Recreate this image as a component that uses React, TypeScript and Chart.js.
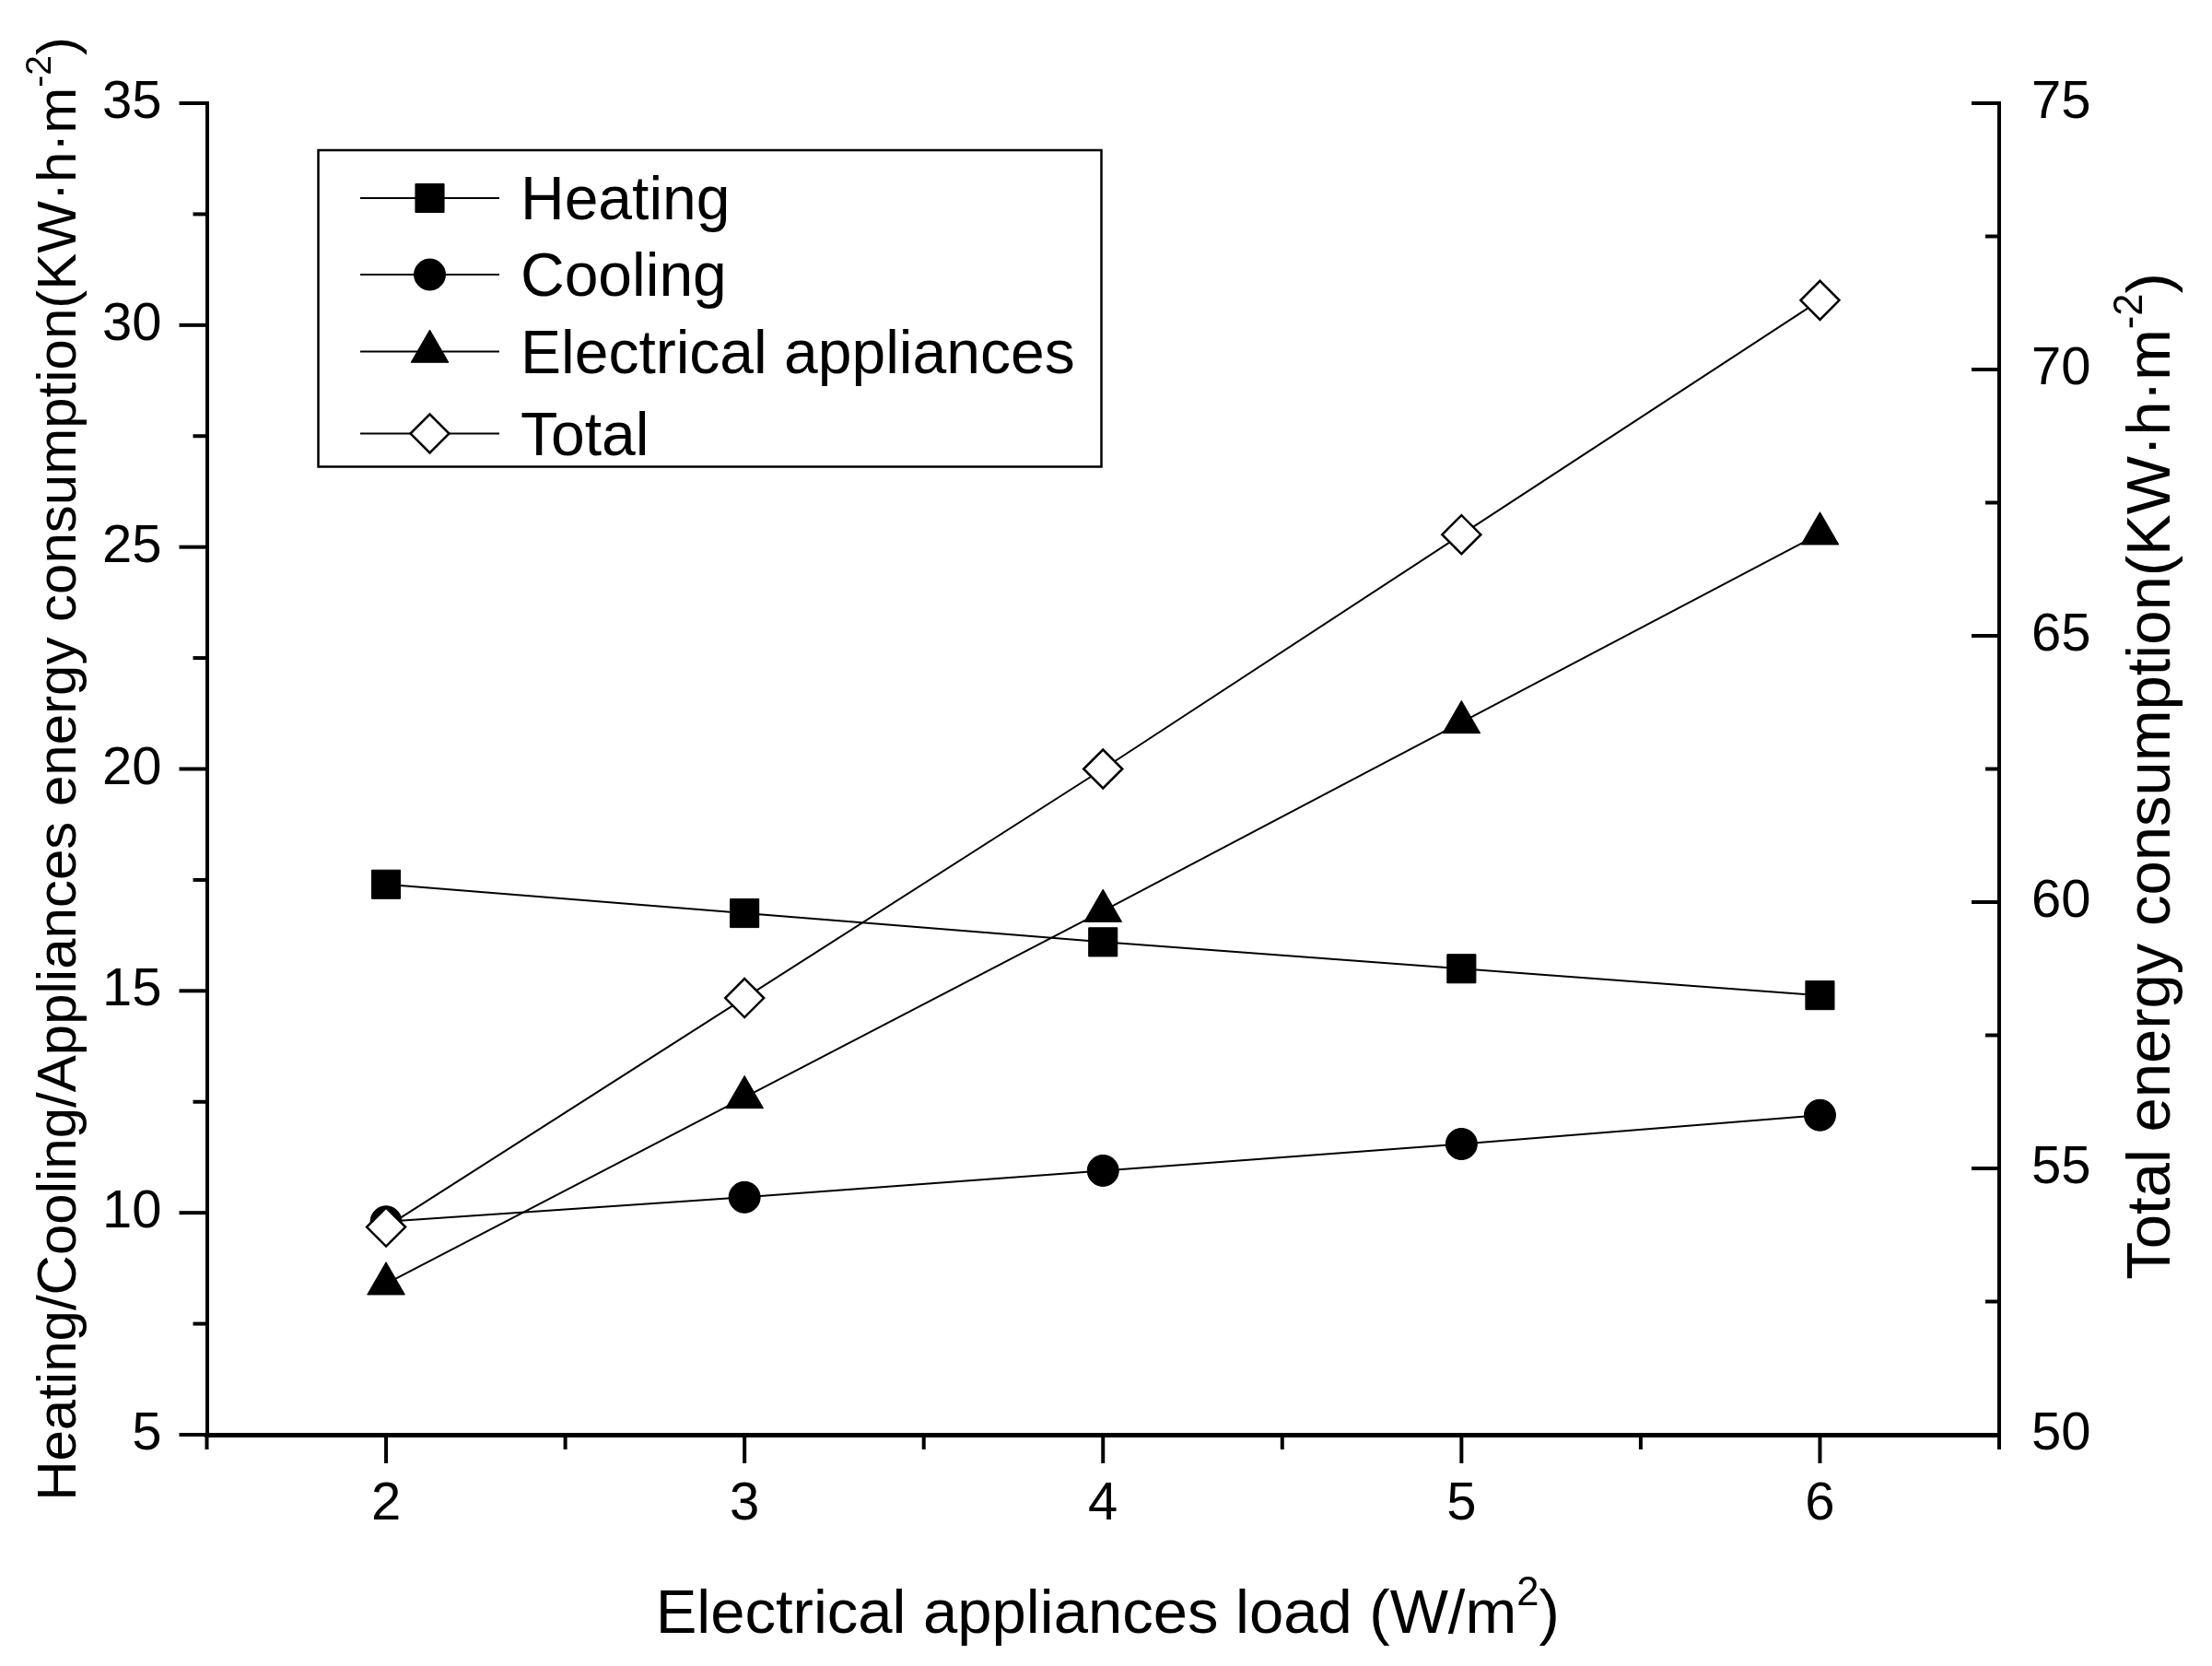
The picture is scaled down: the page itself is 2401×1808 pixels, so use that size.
import React, { useEffect, useRef } from 'react';
import { Chart, registerables } from 'chart.js';
import { drawPoint } from 'chart.js/helpers';

Chart.register(...registerables);

// ---- data ----
const loads = [2, 3, 4, 5, 6];
const heating = [17.4, 16.75, 16.1, 15.5, 14.9];
const cooling = [9.8, 10.35, 10.95, 11.55, 12.2];
const appliances = [8.4, 12.6, 16.8, 21.05, 25.3];
const total = [53.9, 58.2, 62.5, 66.9, 71.3];

const seriesLabels = ['Heating', 'Cooling', 'Electrical appliances', 'Total'];
const xTickValues = [2, 3, 4, 5, 6];
const leftTickValues = [5, 10, 15, 20, 25, 30, 35];
const rightTickValues = [50, 55, 60, 65, 70, 75];

const FONT = '"Liberation Sans", Arial, Helvetica, sans-serif';

type Seg = { t: string; sup?: boolean };
const xTitle: Seg[] = [{ t: 'Electrical appliances load (W/m' }, { t: '2', sup: true }, { t: ')' }];
const leftTitle: Seg[] = [
  { t: 'Heating/Cooling/Appliances energy consumption(KW\u00B7h\u00B7m' },
  { t: '-2', sup: true },
  { t: ')' },
];
const rightTitle: Seg[] = [{ t: 'Total energy consumption(KW\u00B7h\u00B7m' }, { t: '-2', sup: true }, { t: ')' }];

const markerStyles = [
  { pointStyle: 'rect', radius: 22, fill: '#000', borderWidth: 1 },
  { pointStyle: 'circle', radius: 17, fill: '#000', borderWidth: 1 },
  { pointStyle: 'triangle', radius: 23.5, fill: '#000', borderWidth: 1 },
  { pointStyle: 'rectRot', radius: 21, fill: '#fff', borderWidth: 2.5 },
];

function drawRich(ctx: CanvasRenderingContext2D, segs: Seg[], size: number, x: number, y: number, rot: number) {
  ctx.save();
  ctx.translate(x, y);
  ctx.rotate(rot);
  const supSize = size * 0.65;
  const widths = segs.map((s) => {
    ctx.font = `${s.sup ? supSize : size}px ${FONT}`;
    return ctx.measureText(s.t).width;
  });
  const tw = widths.reduce((a, b) => a + b, 0);
  let cx = -tw / 2;
  ctx.textAlign = 'left';
  ctx.textBaseline = 'alphabetic';
  ctx.fillStyle = '#000';
  segs.forEach((s, i) => {
    ctx.font = `${s.sup ? supSize : size}px ${FONT}`;
    ctx.fillText(s.t, cx, s.sup ? -size * 0.45 : 0);
    cx += widths[i];
  });
  ctx.restore();
}

const decorPlugin = {
  id: 'decor',
  afterDraw(chart: any) {
    const ctx: CanvasRenderingContext2D = chart.ctx;
    const xs = chart.scales.x;
    const yl = chart.scales.y;
    const yr = chart.scales.y1;
    const area = chart.chartArea;
    ctx.save();
    ctx.strokeStyle = '#000';
    ctx.lineCap = 'butt';
    ctx.lineWidth = 4;
    // x ticks (outward)
    for (let v = xs.min; v <= xs.max + 1e-9; v += 0.5) {
      const px = xs.getPixelForValue(v);
      const major = Math.abs(v - Math.round(v)) < 1e-9;
      const len = major ? 31 : 16;
      ctx.beginPath();
      ctx.moveTo(px, area.bottom);
      ctx.lineTo(px, area.bottom + len);
      ctx.stroke();
    }
    // left y ticks (outward)
    for (let v = yl.min; v <= yl.max + 1e-9; v += 2.5) {
      const py = yl.getPixelForValue(v);
      const major = Math.abs(v / 5 - Math.round(v / 5)) < 1e-9;
      const len = major ? 30 : 15;
      ctx.beginPath();
      ctx.moveTo(area.left, py);
      ctx.lineTo(area.left - len, py);
      ctx.stroke();
    }
    // right y ticks (inward)
    for (let v = yr.min; v <= yr.max + 1e-9; v += 2.5) {
      const py = yr.getPixelForValue(v);
      const major = Math.abs(v / 5 - Math.round(v / 5)) < 1e-9;
      const len = major ? 30 : 15;
      ctx.beginPath();
      ctx.moveTo(area.right, py);
      ctx.lineTo(area.right - len, py);
      ctx.stroke();
    }

    // axis titles
    drawRich(ctx, xTitle, 67, (area.left + area.right) / 2 + 5, 1772, 0);
    drawRich(ctx, leftTitle, 60, 82, (area.top + area.bottom) / 2, -Math.PI / 2);
    drawRich(ctx, rightTitle, 67, 2355, (area.top + area.bottom) / 2 + 8, -Math.PI / 2);

    // legend
    const bx = 345.5, by = 163, bw = 850, bh = 343.5;
    ctx.lineWidth = 2.5;
    ctx.strokeRect(bx, by, bw, bh);
    const rows = [215, 298, 381.5, 470.5];
    chart.data.datasets.forEach((ds: any, i: number) => {
      const ry = rows[i];
      ctx.lineWidth = 2;
      ctx.strokeStyle = '#000';
      ctx.beginPath();
      ctx.moveTo(391, ry);
      ctx.lineTo(542, ry);
      ctx.stroke();
      const m = markerStyles[i];
      ctx.fillStyle = m.fill;
      ctx.strokeStyle = '#000';
      ctx.lineWidth = m.borderWidth;
      drawPoint(ctx, { pointStyle: m.pointStyle, radius: m.radius, rotation: 0, borderWidth: m.borderWidth } as any, 466.5, ry);
      ctx.fillStyle = '#000';
      ctx.font = `66px ${FONT}`;
      ctx.textAlign = 'left';
      ctx.textBaseline = 'alphabetic';
      ctx.fillText(ds.label, 565, ry + 23);
    });
    ctx.restore();
  },
};

function mk(values: number[]) {
  return loads.map((x, i) => ({ x, y: values[i] }));
}

export default function App() {
  const ref = useRef<HTMLCanvasElement | null>(null);
  useEffect(() => {
    if (!ref.current) return;
    const seriesValues = [heating, cooling, appliances, total];
    const datasets = seriesValues.map((vals, i) => {
      const m = markerStyles[i];
      return {
        label: seriesLabels[i],
        data: mk(vals),
        yAxisID: i === 3 ? 'y1' : 'y',
        order: i === 3 ? -1 : i,
        borderColor: '#000',
        backgroundColor: m.fill,
        borderWidth: 2,
        tension: 0,
        pointStyle: m.pointStyle,
        pointRadius: m.radius,
        pointHoverRadius: m.radius,
        pointBackgroundColor: m.fill,
        pointBorderColor: '#000',
        pointBorderWidth: m.borderWidth,
        fill: false,
      };
    });
    const tickFont = { family: FONT, size: 58 };
    const chart = new Chart(ref.current, {
      type: 'line',
      data: { datasets },
      plugins: [decorPlugin],
      options: {
        animation: false,
        responsive: false,
        devicePixelRatio: 1,
        layout: { padding: { top: 112, left: 0, right: 0, bottom: 0 }, autoPadding: false },
        plugins: { legend: { display: false }, tooltip: { enabled: false } },
        scales: {
          x: {
            type: 'linear',
            min: 1.5,
            max: 6.5,
            grid: { display: false, drawTicks: false },
            border: { display: true, color: '#000', width: 5 },
            afterBuildTicks: (s: any) => {
              s.ticks = xTickValues.map((v) => ({ value: v }));
            },
            afterFit: (s: any) => {
              s.height = 251;
            },
            ticks: { color: '#000', font: tickFont, padding: 41, maxRotation: 0, autoSkip: false },
          },
          y: {
            type: 'linear',
            position: 'left',
            min: 5,
            max: 35,
            grid: { display: false, drawTicks: false },
            border: { display: true, color: '#000', width: 4 },
            afterBuildTicks: (s: any) => {
              s.ticks = leftTickValues.map((v) => ({ value: v }));
            },
            afterFit: (s: any) => {
              s.width = 224.5;
            },
            ticks: { color: '#000', font: tickFont, padding: 49, autoSkip: false },
          },
          y1: {
            type: 'linear',
            position: 'right',
            min: 50,
            max: 75,
            grid: { display: false, drawTicks: false },
            border: { display: true, color: '#000', width: 4 },
            afterBuildTicks: (s: any) => {
              s.ticks = rightTickValues.map((v) => ({ value: v }));
            },
            afterFit: (s: any) => {
              s.width = 231;
            },
            ticks: { color: '#000', font: tickFont, padding: 35, autoSkip: false },
          },
        },
      } as any,
    });
    return () => chart.destroy();
  }, []);
  return (
    <div style={{ position: 'fixed', left: 0, top: 0, width: 2401, height: 1808, background: '#fff' }}>
      <canvas ref={ref} width={2401} height={1808} style={{ width: 2401, height: 1808, display: 'block' }} />
    </div>
  );
}
